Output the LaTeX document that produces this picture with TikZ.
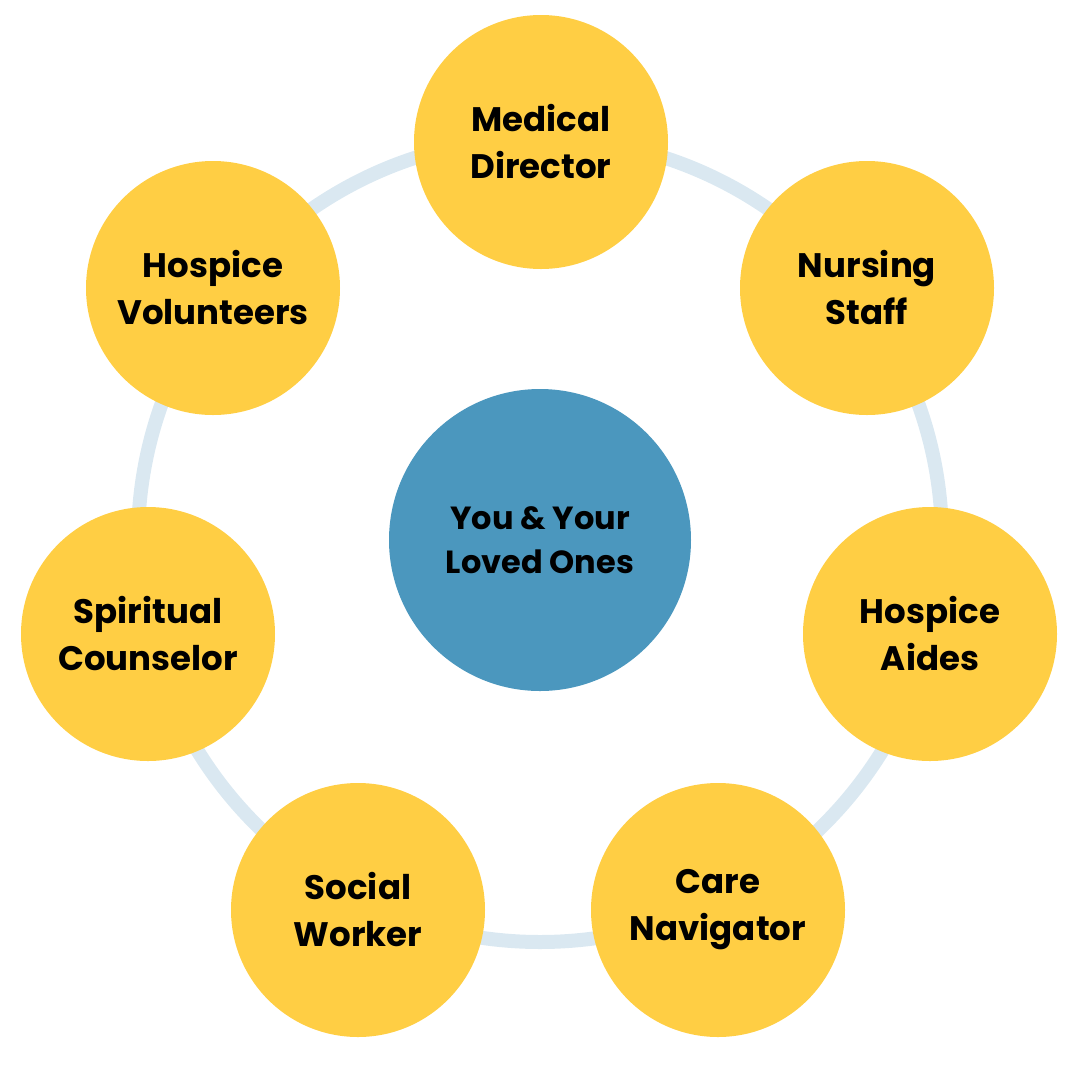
\documentclass[tikz,border=0pt]{standalone}
\usepackage{fontspec}
\setmainfont{Poppins}
\definecolor{ylw}{HTML}{FFCE44}
\definecolor{blu}{HTML}{4B97BE}
\definecolor{ring}{HTML}{DAE8F1}
\tikzset{
 role/.style={circle,fill=ylw,minimum size=254pt,inner sep=0pt,align=center,font=\fontsize{34}{47}\selectfont\bfseries},
 hub/.style={circle,fill=blu,minimum size=302pt,inner sep=0pt,align=center,font=\fontsize{32}{44}\selectfont\bfseries}
}
\begin{document}
\begin{tikzpicture}[x=1pt,y=-1pt]
\useasboundingbox (0,0) rectangle (1080,1080);
\coordinate (c) at (540,540);
\draw[ring,line width=14pt] (c) circle[radius=402];
\node[hub] (hub) at (c) {You \& Your\\Loved Ones};
\node[role] (md) at (541,142) {Medical\\Director};
\node[role] (ns) at (867,288) {Nursing\\Staff};
\node[role] (ha) at (930,634) {Hospice\\Aides};
\node[role] (cn) at (718,910) {Care\\Navigator};
\node[role] (sw) at (358,910) {Social\\Worker};
\node[role] (sc) at (148,634) {Spiritual\\Counselor};
\node[role] (hv) at (213,288) {Hospice\\Volunteers};
\end{tikzpicture}
\end{document}
